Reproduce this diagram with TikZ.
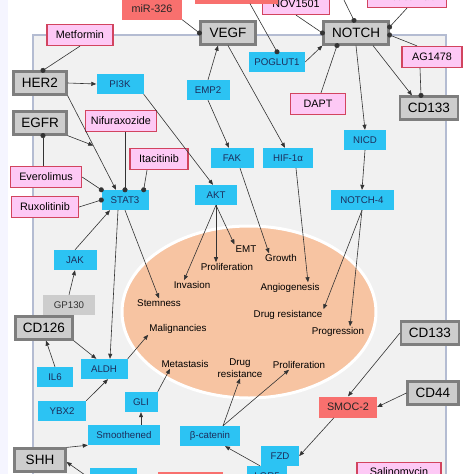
\documentclass[tikz,border=0pt]{standalone}
\usepackage{fontspec}
\setmainfont{Liberation Sans}
\usepackage{xcolor}
\usetikzlibrary{arrows.meta,calc}

\definecolor{panelfill}{HTML}{F1F1F1}
\definecolor{panelline}{HTML}{B4BCD2}
\definecolor{blobfill}{HTML}{F7C4A2}
\definecolor{recgray}{HTML}{CDCDCD}
\definecolor{recline}{HTML}{7E7E7E}
\definecolor{drugfill}{HTML}{FDC9F5}
\definecolor{drugline}{HTML}{D2445F}
\definecolor{mirred}{HTML}{F8706E}
\definecolor{protblue}{HTML}{2CC3F3}
\definecolor{protink}{HTML}{1C2E5C}

\begin{document}
\begin{tikzpicture}[x=1pt, y=-1pt,
    receptor/.style={rectangle, draw=recline, fill=recgray, line width=2.2pt, inner sep=0pt,
                minimum height=23pt, font=\fontsize{13.5}{15}\selectfont},
    drug/.style={rectangle, draw=drugline, fill=drugfill, line width=1.2pt, inner sep=0pt,
                minimum height=21pt, font=\fontsize{10.8}{12}\selectfont},
    mirna/.style={rectangle, fill=mirred, inner sep=0pt, minimum height=21pt,
                text=black!85, font=\fontsize{10.8}{12}\selectfont},
    prot/.style={rectangle, fill=protblue, text=protink, inner sep=0pt,
                minimum height=20pt, font=\fontsize{9.7}{11}\selectfont},
    effect/.style={inner sep=1pt, align=center, font=\fontsize{9.8}{11.5}\selectfont},
    arr/.style={-{Triangle[length=5pt,width=4pt]}, line width=0.6pt, draw=black!80},
    inh/.style={-{Circle[length=5pt]}, shorten >=-2.5pt, line width=0.6pt, draw=black!80}
]
    \useasboundingbox (0,0) rectangle (474,474);
    \clip (0,0) rectangle (474,474);
    \fill[blue!4] (0,0) rectangle (8,474);

    % panel and tumour region
    \draw[panelline, fill=panelfill, line width=1.5pt] (33,35) rectangle (446,490);
    \draw[white, fill=blobfill, line width=3pt] (249,312) ellipse [x radius=127pt, y radius=86pt];

    \node[receptor, minimum width=55pt] (vegf)  at (228,33)  {VEGF};
    \node[receptor, minimum width=65pt] (notch) at (356,33)  {NOTCH};
    \node[receptor, minimum width=53pt] (her2)  at (40,83)   {HER2};
    \node[receptor, minimum width=53pt] (egfr)  at (40,123)  {EGFR};
    \node[receptor, minimum width=58pt] (cdtop) at (429,108) {CD133};
    \node[receptor, minimum width=57pt] (cd126) at (44,328)  {CD126};
    \node[receptor, minimum width=51pt] (shh)   at (40,460)  {SHH};
    \node[receptor, minimum width=58pt] (cdbot) at (430,333) {CD133};
    \node[receptor, minimum width=51pt] (cd44)  at (433,393) {CD44};

    \node[drug, minimum width=66pt] (metformin) at (80,35)   {Metformin};
    \node[drug, minimum width=71pt] (nifur)     at (121,121) {Nifuraxozide};
    \node[drug, minimum width=58pt] (itaci)     at (159,159) {Itacitinib};
    \node[drug, minimum width=71pt] (everol)    at (46,177)  {Everolimus};
    \node[drug, minimum width=67pt] (ruxo)      at (45,207)  {Ruxolitinib};
    \node[drug, minimum width=55pt] (dapt)      at (318,104) {DAPT};
    \node[drug, minimum width=60pt] (ag)        at (432,57)  {AG1478};
    \node[drug, minimum width=67pt] (nov)       at (296,4)   {NOV1501};
    \node[drug, minimum width=79pt] (enoti)     at (407,-3)  {Enoticumab};
    \node[drug, minimum width=84pt] (salino)    at (399,473) {Salinomycin};

    \node[mirna, minimum width=60pt] (mir326) at (152,9)   {miR-326};
    \node[mirna, minimum width=83pt] (mir101) at (236,-7)  {miR-101};
    \node[mirna, minimum width=58pt] (smoc)   at (348,407) {SMOC-2};
    \node[mirna, minimum width=65pt] (redbot) at (190,482) {};

    \node[prot, minimum width=47pt] (pi3k)    at (120,84)  {PI3K};
    \node[prot, minimum width=56pt] (poglut)  at (277,62)  {POGLUT1};
    \node[prot, minimum width=43pt] (emp2)    at (208,90)  {EMP2};
    \node[prot, minimum width=43pt] (fak)     at (232,158) {FAK};
    \node[prot, minimum width=50pt] (hif)     at (288,158) {HIF-1α};
    \node[prot, minimum width=42pt] (akt)     at (216,195) {AKT};
    \node[prot, minimum width=47pt] (stat3)   at (125,200) {STAT3};
    \node[prot, minimum width=42pt] (nicd)    at (365,140) {NICD};
    \node[prot, minimum width=63pt] (notch4)  at (362,200) {NOTCH-4};
    \node[prot, minimum width=43pt] (jak)     at (75,260)  {JAK};
    \node[prot, minimum width=52pt, fill=recgray, text=black!80] (gp130) at (69,305) {GP130};
    \node[prot, minimum width=36pt] (il6)     at (55,377)  {IL6};
    \node[prot, minimum width=47pt] (aldh)    at (104,369) {ALDH};
    \node[prot, minimum width=48pt] (ybx2)    at (62,411)  {YBX2};
    \node[prot, minimum width=33pt] (gli)     at (141,402) {GLI};
    \node[prot, minimum width=72pt] (smooth)  at (124,435) {Smoothened};
    \node[prot, minimum width=60pt] (bcat)    at (210,436) {β-catenin};
    \node[prot, minimum width=38pt] (fzd)     at (280,456) {FZD};
    \node[prot, minimum width=40pt] (lgr5)    at (267,476) {LGR5};
    \node[prot, minimum width=47pt] (bluebot) at (113,478) {};

    \node[effect] (emt)      at (246,249) {EMT};
    \node[effect] (growth)   at (281,258) {Growth};
    \node[effect] (prolif)   at (227,267) {Proliferation};
    \node[effect] (invasion) at (192,285) {Invasion};
    \node[effect] (angio)    at (290,288) {Angiogenesis};
    \node[effect] (stem)     at (159,303) {Stemness};
    \node[effect] (drugres)  at (288,315) {Drug resistance};
    \node[effect] (malig)    at (178,329) {Malignancies};
    \node[effect] (progr)    at (338,332) {Progression};
    \node[effect] (meta)     at (185,364) {Metastasis};
    \node[effect] (drugresb) at (240,368) {Drug\\resistance};
    \node[effect] (prolifb)  at (299,365) {Proliferation};

    \coordinate (topsrc) at (342,-4);
    \coordinate (join) at ($(her2.south east)!0.53!([xshift=-9pt]stat3.north)$);

    % inhibition
    \draw[inh] (metformin.south) -- ([xshift=3pt]her2.north);
    \draw[inh] (mir326.south east) -- (vegf.west);
    \draw[inh] ([xshift=14pt]mir101.south) -- (poglut.north);
    \draw[inh] (nov.south) -- (notch.west);
    \draw[inh] (topsrc) -- ([xshift=-2pt]notch.north);
    \draw[inh] (enoti.south) -- ([yshift=6pt]notch.east);
    \draw[inh] ([xshift=-15pt]ag.north) -- ([yshift=-2pt]notch.east);
    \draw[inh] ([xshift=-12pt]ag.south) -- ([xshift=-8pt]cdtop.north);
    \draw[inh] ([xshift=3pt]dapt.north) -- ([xshift=-19pt]notch.south);
    \draw[inh] (nifur.south -| stat3.north) -- (stat3.north);
    \draw[inh] ([xshift=-12pt]itaci.south) -- ([xshift=-5pt]stat3.north east);
    \draw[inh] (everol.east) -- (stat3.north west);
    \draw[inh] (ruxo.east) -- (stat3.west);
    \draw[inh] ([xshift=-3pt]everol.north) -- ([xshift=3pt]egfr.south);

    % activation
    \draw[arr] (her2.east) -- (pi3k.west);
    \draw[arr] (her2.south east) -- ([xshift=-9pt]stat3.north);
    \draw[arr] (egfr.south east) -- (join);
    \draw[arr] (pi3k.south east) -- ([xshift=-3pt]akt.north);
    \draw[arr] (stat3.south) -- (stem.north);
    \draw[arr] ([xshift=-7pt]stat3.south) -- ([xshift=6pt]aldh.north);
    \draw[arr] (jak.north) -- ([xshift=-15pt]stat3.south);
    \draw[arr] (gp130.north) -- (jak.south);
    \draw[arr] (cd126.south east) -- ([xshift=16pt]aldh.north west);
    \draw[arr] (il6.north) -- ([xshift=2pt]cd126.south);
    \draw[arr] (ybx2.north east) -- ([xshift=4pt]aldh.south);
    \draw[arr] (aldh.north east) -- (malig.south west);
    \draw[arr] ([xshift=17pt]smooth.north) -- (gli.south);
    \draw[arr] (shh.north east) -- (smooth.south west);
    \draw[arr] (bluebot.west) -- ([yshift=-2pt]shh.east);
    \draw[arr] (gli.north east) -- ([xshift=-15pt]meta.south);
    \draw[arr] ([xshift=13pt]bcat.north) -- (drugresb.south);
    \draw[arr] ([xshift=13pt]bcat.north) -- ([xshift=-10pt]prolifb.south);
    \draw[arr] ([xshift=-7pt]lgr5.north) -- ([xshift=15pt]bcat.south);
    \draw[arr] ([xshift=-14pt]smoc.south) -- (fzd.east);
    \draw[arr] (cdbot.west) -- (smoc.north);
    \draw[arr] (cd44.west) -- (smoc.east);
    \draw[arr] (vegf.south) -- ([xshift=-3pt]hif.north);
    \draw[arr] (emp2.north) -- ([xshift=-10pt]vegf.south);
    \draw[arr] (emp2.south) -- ([xshift=-3pt]fak.north);
    \draw[arr] (poglut.east) -- (notch.south west);
    \draw[arr] (notch.south) -- (nicd.north);
    \draw[arr] ([xshift=17pt]notch.south) -- ([xshift=-17pt]cdtop.north);
    \draw[arr] (nicd.south) -- (notch4.north);
    \draw[arr] (notch4.south) -- (drugres.north east);
    \draw[arr] (notch4.south) -- ([xshift=12pt]progr.north);
    \draw[arr] ([xshift=8pt]fak.south) -- ([xshift=-12pt]growth.north);
    \draw[arr] ([xshift=8pt]hif.south) -- ([xshift=18pt]angio.north);
    \draw[arr] (akt.south) -- (emt.north west);
    \draw[arr] (akt.south) -- (akt.south |- prolif.north);
    \draw[arr] (akt.south) -- ([xshift=-8pt]invasion.north);
\end{tikzpicture}
\end{document}
